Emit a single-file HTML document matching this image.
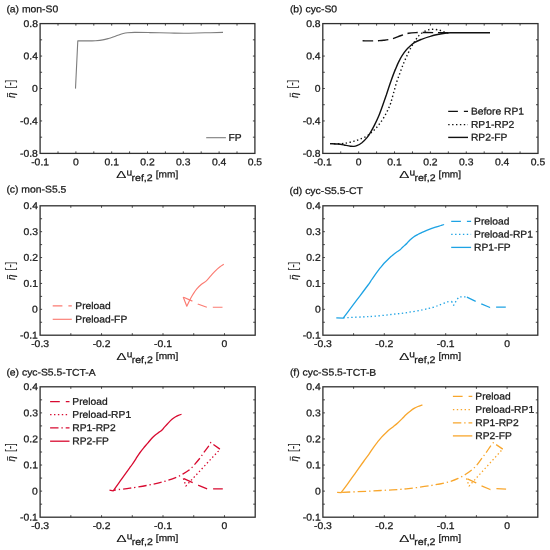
<!DOCTYPE html>
<html><head><meta charset="utf-8"><title>figure</title>
<style>
html,body{margin:0;padding:0;background:#fff;}
body{width:550px;height:550px;overflow:hidden;}
svg{display:block;}
svg text{font-family:"Liberation Sans","DejaVu Sans",sans-serif;fill:#1a1a1a;stroke:#1a1a1a;stroke-width:0.26px;}
</style></head><body>
<svg width="550" height="550" viewBox="0 0 550 550">
<rect width="550" height="550" fill="#fff"/>
<rect x="40.1" y="23.6" width="214.8" height="129.8" fill="#fff" stroke="#303030" stroke-width="1.3"/>
<path d="M58.00,153.4v-2.0M58.00,23.6v2.0M75.90,153.4v-2.0M75.90,23.6v2.0M93.80,153.4v-2.0M93.80,23.6v2.0M111.70,153.4v-2.0M111.70,23.6v2.0M129.60,153.4v-2.0M129.60,23.6v2.0M147.50,153.4v-2.0M147.50,23.6v2.0M165.40,153.4v-2.0M165.40,23.6v2.0M183.30,153.4v-2.0M183.30,23.6v2.0M201.20,153.4v-2.0M201.20,23.6v2.0M219.10,153.4v-2.0M219.10,23.6v2.0M237.00,153.4v-2.0M237.00,23.6v2.0M40.1,137.18h2.0M254.9,137.18h-2.0M40.1,120.95h2.0M254.9,120.95h-2.0M40.1,104.72h2.0M254.9,104.72h-2.0M40.1,88.50h2.0M254.9,88.50h-2.0M40.1,72.28h2.0M254.9,72.28h-2.0M40.1,56.05h2.0M254.9,56.05h-2.0M40.1,39.82h2.0M254.9,39.82h-2.0" stroke="#303030" stroke-width="0.9" fill="none"/>
<text transform="translate(40.10,165.30) scale(1.07,1) rotate(0.03)" font-size="9.7" text-anchor="middle" >-0.1</text>
<text transform="translate(75.90,165.30) scale(1.07,1) rotate(0.03)" font-size="9.7" text-anchor="middle" >0</text>
<text transform="translate(111.70,165.30) scale(1.07,1) rotate(0.03)" font-size="9.7" text-anchor="middle" >0.1</text>
<text transform="translate(147.50,165.30) scale(1.07,1) rotate(0.03)" font-size="9.7" text-anchor="middle" >0.2</text>
<text transform="translate(183.30,165.30) scale(1.07,1) rotate(0.03)" font-size="9.7" text-anchor="middle" >0.3</text>
<text transform="translate(219.10,165.30) scale(1.07,1) rotate(0.03)" font-size="9.7" text-anchor="middle" >0.4</text>
<text transform="translate(254.90,165.30) scale(1.07,1) rotate(0.03)" font-size="9.7" text-anchor="middle" >0.5</text>
<text transform="translate(37.90,156.70) scale(1.07,1) rotate(0.03)" font-size="9.7" text-anchor="end" >-0.8</text>
<text transform="translate(37.90,124.25) scale(1.07,1) rotate(0.03)" font-size="9.7" text-anchor="end" >-0.4</text>
<text transform="translate(37.90,91.80) scale(1.07,1) rotate(0.03)" font-size="9.7" text-anchor="end" >0</text>
<text transform="translate(37.90,59.35) scale(1.07,1) rotate(0.03)" font-size="9.7" text-anchor="end" >0.4</text>
<text transform="translate(37.90,26.90) scale(1.07,1) rotate(0.03)" font-size="9.7" text-anchor="end" >0.8</text>
<text transform="translate(6.40,12.20) scale(1.07,1) rotate(0.03)" font-size="9.7" text-anchor="start" >(a) mon-S0</text>
<text transform="translate(116.10,177.90) scale(1.52,1) rotate(0.03)" font-size="10.3" style="stroke:none">Δ</text><text transform="translate(126.50,175.50) scale(1.08,1) rotate(0.03)" font-size="9.4">u</text><text transform="translate(131.50,181.10) scale(1.10,1) rotate(0.03)" font-size="9.6">ref,2</text><text transform="translate(155.70,177.30) scale(1.09,1) rotate(0.03)" font-size="9.3">[mm]</text>
<g transform="translate(11.10,88.50)"><g transform="scale(1.15,1) rotate(-90)"><text x="-9.5" y="3.4" font-size="10" font-style="italic" style="stroke-width:0.25px" font-family="'Liberation Serif','DejaVu Serif',serif">η</text><path d="M-8.6,-3.13h4.2" stroke="#1a1a1a" stroke-width="0.75"/></g><g transform="scale(1.34,1) rotate(-90)"><text x="0" y="1.95" font-size="10" style="stroke-width:0.05px">[-]</text></g></g>
<path d="M75.5,88.6 L77.8,40.8 L90.0,40.9 C90.9,40.9 93.4,41.0 95.5,40.8 C97.6,40.6 100.6,40.3 102.8,39.9 C105.0,39.5 106.4,39.1 108.6,38.5 C110.8,37.9 113.5,36.8 115.9,36.0 C118.3,35.2 121.3,34.0 123.2,33.5 C125.1,33.0 125.6,32.9 127.5,32.7 C129.4,32.5 131.1,32.4 134.8,32.4 C138.6,32.4 144.1,32.5 150.0,32.6 C155.9,32.7 164.3,32.9 170.0,33.0 C175.7,33.1 178.2,33.2 184.0,33.2 C189.8,33.2 198.5,32.9 205.0,32.8 C211.5,32.7 220.0,32.5 223.0,32.4" fill="none" stroke="#7d7d7d" stroke-width="1.1" stroke-linejoin="round" stroke-linecap="butt"/>
<path d="M206.2,137.7 L225.9,137.7" fill="none" stroke="#7d7d7d" stroke-width="1.1" stroke-linejoin="round" stroke-linecap="butt"/>
<text transform="translate(228.40,140.80) scale(1.06,1) rotate(0.03)" font-size="9.7" text-anchor="start" >FP</text>
<rect x="322.8" y="23.6" width="215.2" height="129.8" fill="#fff" stroke="#303030" stroke-width="1.3"/>
<path d="M340.73,153.4v-2.0M340.73,23.6v2.0M358.67,153.4v-2.0M358.67,23.6v2.0M376.60,153.4v-2.0M376.60,23.6v2.0M394.53,153.4v-2.0M394.53,23.6v2.0M412.47,153.4v-2.0M412.47,23.6v2.0M430.40,153.4v-2.0M430.40,23.6v2.0M448.33,153.4v-2.0M448.33,23.6v2.0M466.27,153.4v-2.0M466.27,23.6v2.0M484.20,153.4v-2.0M484.20,23.6v2.0M502.13,153.4v-2.0M502.13,23.6v2.0M520.07,153.4v-2.0M520.07,23.6v2.0M322.8,137.18h2.0M538.0,137.18h-2.0M322.8,120.95h2.0M538.0,120.95h-2.0M322.8,104.72h2.0M538.0,104.72h-2.0M322.8,88.50h2.0M538.0,88.50h-2.0M322.8,72.28h2.0M538.0,72.28h-2.0M322.8,56.05h2.0M538.0,56.05h-2.0M322.8,39.82h2.0M538.0,39.82h-2.0" stroke="#303030" stroke-width="0.9" fill="none"/>
<text transform="translate(322.80,165.30) scale(1.07,1) rotate(0.03)" font-size="9.7" text-anchor="middle" >-0.1</text>
<text transform="translate(358.67,165.30) scale(1.07,1) rotate(0.03)" font-size="9.7" text-anchor="middle" >0</text>
<text transform="translate(394.53,165.30) scale(1.07,1) rotate(0.03)" font-size="9.7" text-anchor="middle" >0.1</text>
<text transform="translate(430.40,165.30) scale(1.07,1) rotate(0.03)" font-size="9.7" text-anchor="middle" >0.2</text>
<text transform="translate(466.27,165.30) scale(1.07,1) rotate(0.03)" font-size="9.7" text-anchor="middle" >0.3</text>
<text transform="translate(502.13,165.30) scale(1.07,1) rotate(0.03)" font-size="9.7" text-anchor="middle" >0.4</text>
<text transform="translate(538.00,165.30) scale(1.07,1) rotate(0.03)" font-size="9.7" text-anchor="middle" >0.5</text>
<text transform="translate(320.60,156.70) scale(1.07,1) rotate(0.03)" font-size="9.7" text-anchor="end" >-0.8</text>
<text transform="translate(320.60,124.25) scale(1.07,1) rotate(0.03)" font-size="9.7" text-anchor="end" >-0.4</text>
<text transform="translate(320.60,91.80) scale(1.07,1) rotate(0.03)" font-size="9.7" text-anchor="end" >0</text>
<text transform="translate(320.60,59.35) scale(1.07,1) rotate(0.03)" font-size="9.7" text-anchor="end" >0.4</text>
<text transform="translate(320.60,26.90) scale(1.07,1) rotate(0.03)" font-size="9.7" text-anchor="end" >0.8</text>
<text transform="translate(289.90,12.20) scale(1.07,1) rotate(0.03)" font-size="9.7" text-anchor="start" >(b) cyc-S0</text>
<text transform="translate(399.00,177.90) scale(1.52,1) rotate(0.03)" font-size="10.3" style="stroke:none">Δ</text><text transform="translate(409.40,175.50) scale(1.08,1) rotate(0.03)" font-size="9.4">u</text><text transform="translate(414.40,181.10) scale(1.10,1) rotate(0.03)" font-size="9.6">ref,2</text><text transform="translate(438.60,177.30) scale(1.09,1) rotate(0.03)" font-size="9.3">[mm]</text>
<g transform="translate(293.80,88.50)"><g transform="scale(1.15,1) rotate(-90)"><text x="-9.5" y="3.4" font-size="10" font-style="italic" style="stroke-width:0.25px" font-family="'Liberation Serif','DejaVu Serif',serif">η</text><path d="M-8.6,-3.13h4.2" stroke="#1a1a1a" stroke-width="0.75"/></g><g transform="scale(1.34,1) rotate(-90)"><text x="0" y="1.95" font-size="10" style="stroke-width:0.05px">[-]</text></g></g>
<path d="M362.6,40.8 C363.8,40.8 367.4,40.9 370.0,40.9 C372.6,40.9 375.9,40.8 378.2,40.7 C380.5,40.6 381.3,40.6 383.7,40.3 C386.1,40.0 389.6,39.6 392.5,38.8 C395.4,38.0 398.5,36.4 401.2,35.5 C403.9,34.6 406.1,33.8 408.5,33.3 C410.9,32.8 411.6,32.7 415.7,32.6 C419.8,32.5 427.8,32.6 433.2,32.6 C438.6,32.6 445.5,32.7 448.0,32.7" fill="none" stroke="#111" stroke-width="1.4" stroke-linejoin="round" stroke-linecap="butt" stroke-dasharray="10.5 4.8"/>
<path d="M330.1,143.6 C332.0,143.6 338.5,143.8 341.5,143.6 C344.5,143.4 345.8,143.1 347.9,142.7 C350.0,142.3 352.2,141.7 354.3,141.1 C356.4,140.5 358.5,139.8 360.6,138.9 C362.7,138.1 365.1,137.2 367.0,136.0 C368.9,134.8 370.6,133.2 372.1,131.9 C373.6,130.6 374.6,129.7 375.9,128.3 C377.2,126.9 378.4,125.3 379.7,123.6 C381.0,121.9 382.3,120.0 383.6,117.9 C384.9,115.8 386.2,113.3 387.4,110.9 C388.6,108.5 389.6,106.3 390.6,103.4 C391.6,100.5 392.4,97.2 393.4,93.6 C394.4,90.0 395.6,85.4 396.8,81.7 C398.0,78.0 399.3,74.8 400.5,71.5 C401.7,68.2 402.9,65.0 404.1,62.1 C405.3,59.2 406.5,56.7 407.7,54.1 C408.9,51.5 410.2,49.0 411.4,46.8 C412.6,44.6 413.8,42.8 415.0,41.0 C416.2,39.2 417.3,37.4 418.6,35.9 C419.9,34.4 421.3,33.3 423.0,32.3 C424.7,31.3 426.9,30.2 428.8,29.7 C430.7,29.2 432.7,29.3 434.6,29.4 C436.6,29.5 438.8,30.0 440.5,30.5 C442.2,31.0 443.6,31.9 445.0,32.3 C446.4,32.7 448.3,32.7 449.0,32.8" fill="none" stroke="#111" stroke-width="1.4" stroke-linejoin="round" stroke-linecap="butt" stroke-dasharray="1.4 2.5"/>
<path d="M330.1,143.6 C331.4,143.7 335.4,143.8 337.7,144.0 C340.0,144.2 342.0,144.6 344.1,145.0 C346.2,145.4 348.9,146.0 350.5,146.2 C352.1,146.4 352.6,146.5 353.6,146.4 C354.7,146.3 355.4,146.3 356.8,145.7 C358.2,145.1 360.2,144.0 361.9,142.7 C363.6,141.3 365.5,139.4 367.0,137.6 C368.5,135.8 369.5,134.0 370.8,131.9 C372.1,129.8 373.3,127.5 374.6,124.9 C375.9,122.4 377.2,119.7 378.5,116.6 C379.8,113.5 381.0,110.1 382.3,106.5 C383.6,102.9 384.9,99.0 386.4,94.8 C387.8,90.5 389.5,85.2 391.0,81.0 C392.5,76.8 393.9,72.9 395.4,69.4 C396.8,65.9 398.2,62.7 399.7,59.9 C401.1,57.1 402.6,54.7 404.1,52.6 C405.6,50.5 406.8,49.1 408.5,47.5 C410.2,45.9 412.1,44.1 414.3,42.7 C416.5,41.3 418.8,40.4 421.5,39.3 C424.2,38.2 427.4,37.1 430.3,36.3 C433.2,35.4 436.6,34.7 439.0,34.2 C441.4,33.7 443.2,33.5 445.0,33.3 C446.8,33.1 445.8,32.9 450.0,32.8 C454.2,32.7 463.3,32.8 470.0,32.8 C476.7,32.8 486.7,32.8 490.0,32.8" fill="none" stroke="#111" stroke-width="1.4" stroke-linejoin="round" stroke-linecap="butt"/>
<path d="M448.2,111.4 L468.0,111.4" fill="none" stroke="#111" stroke-width="1.4" stroke-linejoin="round" stroke-linecap="butt" stroke-dasharray="9.7 6.0"/>
<text transform="translate(470.90,114.50) scale(1.06,1) rotate(0.03)" font-size="9.7" text-anchor="start" >Before RP1</text>
<path d="M448.2,124.6 L468.0,124.6" fill="none" stroke="#111" stroke-width="1.4" stroke-linejoin="round" stroke-linecap="butt" stroke-dasharray="1.4 2.5"/>
<text transform="translate(470.90,127.70) scale(1.06,1) rotate(0.03)" font-size="9.7" text-anchor="start" >RP1-RP2</text>
<path d="M448.2,137.4 L468.0,137.4" fill="none" stroke="#111" stroke-width="1.4" stroke-linejoin="round" stroke-linecap="butt"/>
<text transform="translate(470.90,140.50) scale(1.06,1) rotate(0.03)" font-size="9.7" text-anchor="start" >RP2-FP</text>
<rect x="40.1" y="205.8" width="215.1" height="129.39999999999998" fill="#fff" stroke="#303030" stroke-width="1.3"/>
<path d="M70.83,335.2v-2.0M70.83,205.8v2.0M101.56,335.2v-2.0M101.56,205.8v2.0M132.29,335.2v-2.0M132.29,205.8v2.0M163.01,335.2v-2.0M163.01,205.8v2.0M193.74,335.2v-2.0M193.74,205.8v2.0M224.47,335.2v-2.0M224.47,205.8v2.0M40.1,322.26h2.0M255.2,322.26h-2.0M40.1,309.32h2.0M255.2,309.32h-2.0M40.1,296.38h2.0M255.2,296.38h-2.0M40.1,283.44h2.0M255.2,283.44h-2.0M40.1,270.50h2.0M255.2,270.50h-2.0M40.1,257.56h2.0M255.2,257.56h-2.0M40.1,244.62h2.0M255.2,244.62h-2.0M40.1,231.68h2.0M255.2,231.68h-2.0M40.1,218.74h2.0M255.2,218.74h-2.0" stroke="#303030" stroke-width="0.9" fill="none"/>
<text transform="translate(40.10,347.10) scale(1.07,1) rotate(0.03)" font-size="9.7" text-anchor="middle" >-0.3</text>
<text transform="translate(101.56,347.10) scale(1.07,1) rotate(0.03)" font-size="9.7" text-anchor="middle" >-0.2</text>
<text transform="translate(163.01,347.10) scale(1.07,1) rotate(0.03)" font-size="9.7" text-anchor="middle" >-0.1</text>
<text transform="translate(224.47,347.10) scale(1.07,1) rotate(0.03)" font-size="9.7" text-anchor="middle" >0</text>
<text transform="translate(37.90,338.50) scale(1.07,1) rotate(0.03)" font-size="9.7" text-anchor="end" >-0.1</text>
<text transform="translate(37.90,312.62) scale(1.07,1) rotate(0.03)" font-size="9.7" text-anchor="end" >0</text>
<text transform="translate(37.90,286.74) scale(1.07,1) rotate(0.03)" font-size="9.7" text-anchor="end" >0.1</text>
<text transform="translate(37.90,260.86) scale(1.07,1) rotate(0.03)" font-size="9.7" text-anchor="end" >0.2</text>
<text transform="translate(37.90,234.98) scale(1.07,1) rotate(0.03)" font-size="9.7" text-anchor="end" >0.3</text>
<text transform="translate(37.90,209.10) scale(1.07,1) rotate(0.03)" font-size="9.7" text-anchor="end" >0.4</text>
<text transform="translate(6.40,192.60) scale(1.07,1) rotate(0.03)" font-size="9.7" text-anchor="start" >(c) mon-S5.5</text>
<text transform="translate(116.25,359.70) scale(1.52,1) rotate(0.03)" font-size="10.3" style="stroke:none">Δ</text><text transform="translate(126.65,357.30) scale(1.08,1) rotate(0.03)" font-size="9.4">u</text><text transform="translate(131.65,362.90) scale(1.10,1) rotate(0.03)" font-size="9.6">ref,2</text><text transform="translate(155.85,359.10) scale(1.09,1) rotate(0.03)" font-size="9.3">[mm]</text>
<g transform="translate(11.10,270.50)"><g transform="scale(1.15,1) rotate(-90)"><text x="-9.5" y="3.4" font-size="10" font-style="italic" style="stroke-width:0.25px" font-family="'Liberation Serif','DejaVu Serif',serif">η</text><path d="M-8.6,-3.13h4.2" stroke="#1a1a1a" stroke-width="0.75"/></g><g transform="scale(1.34,1) rotate(-90)"><text x="0" y="1.95" font-size="10" style="stroke-width:0.05px">[-]</text></g></g>
<path d="M222.5,307.2 L213.2,307.2 L207.2,307.4 L198.5,304.3 L193.0,301.4 L183.2,297.0" fill="none" stroke="#fb7b72" stroke-width="1.15" stroke-linejoin="round" stroke-linecap="butt" stroke-dasharray="9.7 6.0"/>
<path d="M183.2,297.0 L186.8,306.2 L189.7,300.3 C190.2,299.3 191.8,296.2 193.0,294.3 C194.2,292.4 195.4,290.4 196.8,288.8 C198.2,287.2 199.6,285.9 201.2,284.5 C202.8,283.1 205.0,282.1 206.6,280.6 C208.2,279.1 209.5,277.3 211.0,275.7 C212.5,274.1 214.0,272.2 215.4,270.8 C216.8,269.4 218.3,268.1 219.7,267.0 C221.1,265.9 223.1,264.8 223.8,264.3" fill="none" stroke="#fb7b72" stroke-width="1.15" stroke-linejoin="round" stroke-linecap="butt"/>
<path d="M52.7,305.8 L71.8,305.8" fill="none" stroke="#fb7b72" stroke-width="1.15" stroke-linejoin="round" stroke-linecap="butt" stroke-dasharray="9.7 6.0"/>
<text transform="translate(75.30,308.90) scale(1.06,1) rotate(0.03)" font-size="9.7" text-anchor="start" >Preload</text>
<path d="M52.7,319.3 L71.8,319.3" fill="none" stroke="#fb7b72" stroke-width="1.15" stroke-linejoin="round" stroke-linecap="butt"/>
<text transform="translate(75.30,322.40) scale(1.06,1) rotate(0.03)" font-size="9.7" text-anchor="start" >Preload-FP</text>
<rect x="322.9" y="205.8" width="214.89999999999998" height="129.39999999999998" fill="#fff" stroke="#303030" stroke-width="1.3"/>
<path d="M353.60,335.2v-2.0M353.60,205.8v2.0M384.30,335.2v-2.0M384.30,205.8v2.0M415.00,335.2v-2.0M415.00,205.8v2.0M445.70,335.2v-2.0M445.70,205.8v2.0M476.40,335.2v-2.0M476.40,205.8v2.0M507.10,335.2v-2.0M507.10,205.8v2.0M322.9,322.26h2.0M537.8,322.26h-2.0M322.9,309.32h2.0M537.8,309.32h-2.0M322.9,296.38h2.0M537.8,296.38h-2.0M322.9,283.44h2.0M537.8,283.44h-2.0M322.9,270.50h2.0M537.8,270.50h-2.0M322.9,257.56h2.0M537.8,257.56h-2.0M322.9,244.62h2.0M537.8,244.62h-2.0M322.9,231.68h2.0M537.8,231.68h-2.0M322.9,218.74h2.0M537.8,218.74h-2.0" stroke="#303030" stroke-width="0.9" fill="none"/>
<text transform="translate(322.90,347.10) scale(1.07,1) rotate(0.03)" font-size="9.7" text-anchor="middle" >-0.3</text>
<text transform="translate(384.30,347.10) scale(1.07,1) rotate(0.03)" font-size="9.7" text-anchor="middle" >-0.2</text>
<text transform="translate(445.70,347.10) scale(1.07,1) rotate(0.03)" font-size="9.7" text-anchor="middle" >-0.1</text>
<text transform="translate(507.10,347.10) scale(1.07,1) rotate(0.03)" font-size="9.7" text-anchor="middle" >0</text>
<text transform="translate(320.70,338.50) scale(1.07,1) rotate(0.03)" font-size="9.7" text-anchor="end" >-0.1</text>
<text transform="translate(320.70,312.62) scale(1.07,1) rotate(0.03)" font-size="9.7" text-anchor="end" >0</text>
<text transform="translate(320.70,286.74) scale(1.07,1) rotate(0.03)" font-size="9.7" text-anchor="end" >0.1</text>
<text transform="translate(320.70,260.86) scale(1.07,1) rotate(0.03)" font-size="9.7" text-anchor="end" >0.2</text>
<text transform="translate(320.70,234.98) scale(1.07,1) rotate(0.03)" font-size="9.7" text-anchor="end" >0.3</text>
<text transform="translate(320.70,209.10) scale(1.07,1) rotate(0.03)" font-size="9.7" text-anchor="end" >0.4</text>
<text transform="translate(289.60,194.00) scale(1.07,1) rotate(0.03)" font-size="9.7" text-anchor="start" >(d) cyc-S5.5-CT</text>
<text transform="translate(398.95,359.70) scale(1.52,1) rotate(0.03)" font-size="10.3" style="stroke:none">Δ</text><text transform="translate(409.35,357.30) scale(1.08,1) rotate(0.03)" font-size="9.4">u</text><text transform="translate(414.35,362.90) scale(1.10,1) rotate(0.03)" font-size="9.6">ref,2</text><text transform="translate(438.55,359.10) scale(1.09,1) rotate(0.03)" font-size="9.3">[mm]</text>
<g transform="translate(293.90,270.50)"><g transform="scale(1.15,1) rotate(-90)"><text x="-9.5" y="3.4" font-size="10" font-style="italic" style="stroke-width:0.25px" font-family="'Liberation Serif','DejaVu Serif',serif">η</text><path d="M-8.6,-3.13h4.2" stroke="#1a1a1a" stroke-width="0.75"/></g><g transform="scale(1.34,1) rotate(-90)"><text x="0" y="1.95" font-size="10" style="stroke-width:0.05px">[-]</text></g></g>
<path d="M505.8,307.2 L496.0,307.1 L490.0,307.5 L481.3,303.9 L475.7,301.3 L466.3,296.9" fill="none" stroke="#1ea3e4" stroke-width="1.3" stroke-linejoin="round" stroke-linecap="butt" stroke-dasharray="9.7 6.0"/>
<path d="M343.5,317.8 C346.7,317.6 357.4,317.2 362.7,316.9 C367.9,316.6 370.3,316.6 375.0,316.2 C379.7,315.8 385.7,315.1 391.0,314.5 C396.3,313.9 401.7,313.4 407.0,312.6 C412.3,311.8 418.6,310.6 423.0,309.7 C427.4,308.8 430.3,308.1 433.2,307.3 C436.1,306.5 438.1,305.5 440.5,304.6 C442.9,303.7 445.8,302.3 447.7,301.8 C449.6,301.3 451.0,301.5 451.6,301.4" fill="none" stroke="#1ea3e4" stroke-width="1.3" stroke-linejoin="round" stroke-linecap="butt" stroke-dasharray="1.4 2.5"/>
<path d="M451.6,301.4 L453.6,305.3 L457.0,299.5 L459.0,296.9 L465.9,296.8" fill="none" stroke="#1ea3e4" stroke-width="1.3" stroke-linejoin="round" stroke-linecap="butt" stroke-dasharray="1.4 2.5"/>
<path d="M336.3,317.8 L343.2,318.1 C344.7,316.1 349.2,310.1 352.0,306.4 C354.8,302.7 357.3,299.4 360.0,295.8 C362.7,292.2 366.1,287.7 368.1,285.0 C370.1,282.3 370.5,281.4 371.8,279.5 C373.1,277.6 374.5,275.5 375.9,273.6 C377.3,271.7 378.6,269.9 380.0,268.2 C381.4,266.5 382.7,264.8 384.1,263.3 C385.5,261.8 386.8,260.5 388.2,259.2 C389.6,257.9 390.9,256.6 392.3,255.5 C393.7,254.3 395.1,253.2 396.4,252.3 C397.6,251.4 398.7,250.9 399.8,250.0 C400.9,249.1 401.7,248.1 402.9,247.0 C404.1,245.9 406.0,244.2 407.0,243.2 C408.0,242.2 408.0,241.9 409.1,240.9 C410.2,239.9 412.1,238.1 413.6,237.0 C415.1,235.9 416.7,235.1 418.2,234.3 C419.7,233.5 421.2,232.9 422.7,232.2 C424.2,231.5 425.8,230.8 427.3,230.2 C428.8,229.6 430.3,229.0 431.8,228.4 C433.3,227.8 434.9,227.3 436.4,226.8 C437.9,226.3 439.6,225.9 440.9,225.5 C442.2,225.1 443.6,224.7 444.1,224.5" fill="none" stroke="#1ea3e4" stroke-width="1.3" stroke-linejoin="round" stroke-linecap="butt"/>
<path d="M451.2,221.3 L471.1,221.3" fill="none" stroke="#1ea3e4" stroke-width="1.3" stroke-linejoin="round" stroke-linecap="butt" stroke-dasharray="9.7 6.0"/>
<text transform="translate(474.10,224.40) scale(1.06,1) rotate(0.03)" font-size="9.7" text-anchor="start" >Preload</text>
<path d="M451.2,234.3 L471.1,234.3" fill="none" stroke="#1ea3e4" stroke-width="1.3" stroke-linejoin="round" stroke-linecap="butt" stroke-dasharray="1.4 2.5"/>
<text transform="translate(474.10,237.40) scale(1.06,1) rotate(0.03)" font-size="9.7" text-anchor="start" >Preload-RP1</text>
<path d="M451.2,247.4 L471.1,247.4" fill="none" stroke="#1ea3e4" stroke-width="1.3" stroke-linejoin="round" stroke-linecap="butt"/>
<text transform="translate(474.10,250.55) scale(1.06,1) rotate(0.03)" font-size="9.7" text-anchor="start" >RP1-FP</text>
<rect x="40.1" y="386.8" width="215.1" height="130.40000000000003" fill="#fff" stroke="#303030" stroke-width="1.3"/>
<path d="M70.83,517.2v-2.0M70.83,386.8v2.0M101.56,517.2v-2.0M101.56,386.8v2.0M132.29,517.2v-2.0M132.29,386.8v2.0M163.01,517.2v-2.0M163.01,386.8v2.0M193.74,517.2v-2.0M193.74,386.8v2.0M224.47,517.2v-2.0M224.47,386.8v2.0M40.1,504.16h2.0M255.2,504.16h-2.0M40.1,491.12h2.0M255.2,491.12h-2.0M40.1,478.08h2.0M255.2,478.08h-2.0M40.1,465.04h2.0M255.2,465.04h-2.0M40.1,452.00h2.0M255.2,452.00h-2.0M40.1,438.96h2.0M255.2,438.96h-2.0M40.1,425.92h2.0M255.2,425.92h-2.0M40.1,412.88h2.0M255.2,412.88h-2.0M40.1,399.84h2.0M255.2,399.84h-2.0" stroke="#303030" stroke-width="0.9" fill="none"/>
<text transform="translate(40.10,529.10) scale(1.07,1) rotate(0.03)" font-size="9.7" text-anchor="middle" >-0.3</text>
<text transform="translate(101.56,529.10) scale(1.07,1) rotate(0.03)" font-size="9.7" text-anchor="middle" >-0.2</text>
<text transform="translate(163.01,529.10) scale(1.07,1) rotate(0.03)" font-size="9.7" text-anchor="middle" >-0.1</text>
<text transform="translate(224.47,529.10) scale(1.07,1) rotate(0.03)" font-size="9.7" text-anchor="middle" >0</text>
<text transform="translate(37.90,520.50) scale(1.07,1) rotate(0.03)" font-size="9.7" text-anchor="end" >-0.1</text>
<text transform="translate(37.90,494.42) scale(1.07,1) rotate(0.03)" font-size="9.7" text-anchor="end" >0</text>
<text transform="translate(37.90,468.34) scale(1.07,1) rotate(0.03)" font-size="9.7" text-anchor="end" >0.1</text>
<text transform="translate(37.90,442.26) scale(1.07,1) rotate(0.03)" font-size="9.7" text-anchor="end" >0.2</text>
<text transform="translate(37.90,416.18) scale(1.07,1) rotate(0.03)" font-size="9.7" text-anchor="end" >0.3</text>
<text transform="translate(37.90,390.10) scale(1.07,1) rotate(0.03)" font-size="9.7" text-anchor="end" >0.4</text>
<text transform="translate(6.40,375.60) scale(1.07,1) rotate(0.03)" font-size="9.7" text-anchor="start" >(e) cyc-S5.5-TCT-A</text>
<text transform="translate(116.25,541.70) scale(1.52,1) rotate(0.03)" font-size="10.3" style="stroke:none">Δ</text><text transform="translate(126.65,539.30) scale(1.08,1) rotate(0.03)" font-size="9.4">u</text><text transform="translate(131.65,544.90) scale(1.10,1) rotate(0.03)" font-size="9.6">ref,2</text><text transform="translate(155.85,541.10) scale(1.09,1) rotate(0.03)" font-size="9.3">[mm]</text>
<g transform="translate(11.10,452.00)"><g transform="scale(1.15,1) rotate(-90)"><text x="-9.5" y="3.4" font-size="10" font-style="italic" style="stroke-width:0.25px" font-family="'Liberation Serif','DejaVu Serif',serif">η</text><path d="M-8.6,-3.13h4.2" stroke="#1a1a1a" stroke-width="0.75"/></g><g transform="scale(1.34,1) rotate(-90)"><text x="0" y="1.95" font-size="10" style="stroke-width:0.05px">[-]</text></g></g>
<path d="M222.8,488.8 L213.3,488.8 L207.5,489.0 L198.6,485.4 L192.9,482.8 L183.4,478.4" fill="none" stroke="#d80a30" stroke-width="1.3" stroke-linejoin="round" stroke-linecap="butt" stroke-dasharray="9.7 6.0"/>
<path d="M183.4,478.4 L185.9,486.0 L218.4,451.0 L219.9,449.1" fill="none" stroke="#d80a30" stroke-width="1.3" stroke-linejoin="round" stroke-linecap="butt" stroke-dasharray="1.4 2.5"/>
<path d="M219.9,449.1 L210.7,442.5 C210.4,443.1 210.0,444.2 208.8,445.9 C207.6,447.6 205.2,450.6 203.7,452.7 C202.2,454.8 201.5,456.1 199.9,458.2 C198.3,460.2 196.0,463.0 194.2,465.0 C192.4,467.0 191.1,468.5 189.1,470.1 C187.1,471.7 184.2,473.3 182.1,474.5 C180.0,475.7 179.8,476.0 176.4,477.3 C173.0,478.6 166.8,480.8 161.8,482.2 C156.8,483.6 151.7,484.5 146.4,485.5 C141.1,486.5 134.7,487.5 130.0,488.2 C125.3,488.9 120.9,489.2 118.2,489.6 C115.5,490.0 114.4,490.3 113.6,490.4" fill="none" stroke="#d80a30" stroke-width="1.3" stroke-linejoin="round" stroke-linecap="butt" stroke-dasharray="8.3 2.85 1.4 2.85" stroke-dashoffset="0.3"/>
<path d="M109.5,490.1 L113.2,490.9 C114.6,489.0 118.7,483.2 121.4,479.4 C124.1,475.6 127.8,470.5 129.5,468.1 C131.2,465.7 130.7,466.6 131.8,465.0 C132.9,463.4 134.6,460.8 135.9,458.8 C137.2,456.8 138.4,454.8 139.7,453.0 C141.0,451.2 142.1,449.8 143.5,448.1 C144.9,446.4 146.7,444.4 148.0,442.8 C149.3,441.2 150.4,439.8 151.6,438.5 C152.8,437.2 154.1,436.0 155.3,435.0 C156.5,434.0 157.8,433.2 158.9,432.4 C160.0,431.6 160.8,431.1 161.8,430.2 C162.8,429.3 163.6,428.1 164.7,426.9 C165.8,425.7 167.2,424.2 168.4,422.9 C169.6,421.6 170.8,420.3 172.0,419.3 C173.2,418.3 174.5,417.4 175.6,416.7 C176.7,416.0 177.5,415.7 178.5,415.3 C179.5,414.9 181.0,414.5 181.5,414.4" fill="none" stroke="#d80a30" stroke-width="1.3" stroke-linejoin="round" stroke-linecap="butt"/>
<path d="M50.1,401.7 L69.5,401.7" fill="none" stroke="#d80a30" stroke-width="1.3" stroke-linejoin="round" stroke-linecap="butt" stroke-dasharray="9.7 6.0"/>
<text transform="translate(72.30,404.80) scale(1.06,1) rotate(0.03)" font-size="9.7" text-anchor="start" >Preload</text>
<path d="M50.1,414.7 L69.5,414.7" fill="none" stroke="#d80a30" stroke-width="1.3" stroke-linejoin="round" stroke-linecap="butt" stroke-dasharray="1.4 2.5"/>
<text transform="translate(72.30,417.80) scale(1.06,1) rotate(0.03)" font-size="9.7" text-anchor="start" >Preload-RP1</text>
<path d="M50.1,427.9 L69.5,427.9" fill="none" stroke="#d80a30" stroke-width="1.3" stroke-linejoin="round" stroke-linecap="butt" stroke-dasharray="8.4 2.9 1.4 2.9"/>
<text transform="translate(72.30,431.05) scale(1.06,1) rotate(0.03)" font-size="9.7" text-anchor="start" >RP1-RP2</text>
<path d="M50.1,441.2 L69.5,441.2" fill="none" stroke="#d80a30" stroke-width="1.3" stroke-linejoin="round" stroke-linecap="butt"/>
<text transform="translate(72.30,444.30) scale(1.06,1) rotate(0.03)" font-size="9.7" text-anchor="start" >RP2-FP</text>
<rect x="322.9" y="386.8" width="214.89999999999998" height="130.40000000000003" fill="#fff" stroke="#303030" stroke-width="1.3"/>
<path d="M353.60,517.2v-2.0M353.60,386.8v2.0M384.30,517.2v-2.0M384.30,386.8v2.0M415.00,517.2v-2.0M415.00,386.8v2.0M445.70,517.2v-2.0M445.70,386.8v2.0M476.40,517.2v-2.0M476.40,386.8v2.0M507.10,517.2v-2.0M507.10,386.8v2.0M322.9,504.16h2.0M537.8,504.16h-2.0M322.9,491.12h2.0M537.8,491.12h-2.0M322.9,478.08h2.0M537.8,478.08h-2.0M322.9,465.04h2.0M537.8,465.04h-2.0M322.9,452.00h2.0M537.8,452.00h-2.0M322.9,438.96h2.0M537.8,438.96h-2.0M322.9,425.92h2.0M537.8,425.92h-2.0M322.9,412.88h2.0M537.8,412.88h-2.0M322.9,399.84h2.0M537.8,399.84h-2.0" stroke="#303030" stroke-width="0.9" fill="none"/>
<text transform="translate(322.90,529.10) scale(1.07,1) rotate(0.03)" font-size="9.7" text-anchor="middle" >-0.3</text>
<text transform="translate(384.30,529.10) scale(1.07,1) rotate(0.03)" font-size="9.7" text-anchor="middle" >-0.2</text>
<text transform="translate(445.70,529.10) scale(1.07,1) rotate(0.03)" font-size="9.7" text-anchor="middle" >-0.1</text>
<text transform="translate(507.10,529.10) scale(1.07,1) rotate(0.03)" font-size="9.7" text-anchor="middle" >0</text>
<text transform="translate(320.70,520.50) scale(1.07,1) rotate(0.03)" font-size="9.7" text-anchor="end" >-0.1</text>
<text transform="translate(320.70,494.42) scale(1.07,1) rotate(0.03)" font-size="9.7" text-anchor="end" >0</text>
<text transform="translate(320.70,468.34) scale(1.07,1) rotate(0.03)" font-size="9.7" text-anchor="end" >0.1</text>
<text transform="translate(320.70,442.26) scale(1.07,1) rotate(0.03)" font-size="9.7" text-anchor="end" >0.2</text>
<text transform="translate(320.70,416.18) scale(1.07,1) rotate(0.03)" font-size="9.7" text-anchor="end" >0.3</text>
<text transform="translate(320.70,390.10) scale(1.07,1) rotate(0.03)" font-size="9.7" text-anchor="end" >0.4</text>
<text transform="translate(289.90,375.60) scale(1.07,1) rotate(0.03)" font-size="9.7" text-anchor="start" >(f) cyc-S5.5-TCT-B</text>
<text transform="translate(398.95,541.70) scale(1.52,1) rotate(0.03)" font-size="10.3" style="stroke:none">Δ</text><text transform="translate(409.35,539.30) scale(1.08,1) rotate(0.03)" font-size="9.4">u</text><text transform="translate(414.35,544.90) scale(1.10,1) rotate(0.03)" font-size="9.6">ref,2</text><text transform="translate(438.55,541.10) scale(1.09,1) rotate(0.03)" font-size="9.3">[mm]</text>
<g transform="translate(293.90,452.00)"><g transform="scale(1.15,1) rotate(-90)"><text x="-9.5" y="3.4" font-size="10" font-style="italic" style="stroke-width:0.25px" font-family="'Liberation Serif','DejaVu Serif',serif">η</text><path d="M-8.6,-3.13h4.2" stroke="#1a1a1a" stroke-width="0.75"/></g><g transform="scale(1.34,1) rotate(-90)"><text x="0" y="1.95" font-size="10" style="stroke-width:0.05px">[-]</text></g></g>
<path d="M506.1,489.2 L495.9,488.7 L490.2,489.5 L481.3,485.7 L476.1,482.8 L466.5,478.4" fill="none" stroke="#f8a62c" stroke-width="1.3" stroke-linejoin="round" stroke-linecap="butt" stroke-dasharray="9.7 6.0"/>
<path d="M466.5,478.4 L469.1,486.0 L501.5,450.4 L502.8,449.1" fill="none" stroke="#f8a62c" stroke-width="1.3" stroke-linejoin="round" stroke-linecap="butt" stroke-dasharray="1.4 2.5"/>
<path d="M502.8,449.1 L493.3,442.7 C492.9,443.2 491.9,444.3 490.7,445.9 C489.5,447.5 487.7,450.4 486.3,452.3 C484.9,454.2 484.0,455.4 482.5,457.4 C481.0,459.4 479.1,462.4 477.4,464.4 C475.7,466.4 474.3,467.8 472.3,469.5 C470.3,471.2 467.6,473.0 465.3,474.5 C463.0,476.0 460.9,477.2 458.3,478.4 C455.7,479.6 454.0,480.4 449.6,481.6 C445.2,482.8 439.0,484.2 431.8,485.4 C424.6,486.6 414.8,487.9 406.3,488.8 C397.8,489.7 389.4,490.0 380.9,490.5 C372.4,491.0 362.0,491.5 355.4,491.8 C348.8,492.1 343.8,492.2 341.5,492.3" fill="none" stroke="#f8a62c" stroke-width="1.3" stroke-linejoin="round" stroke-linecap="butt" stroke-dasharray="8.4 2.9 1.4 2.9" stroke-dashoffset="0.4"/>
<path d="M337.1,492.4 L341.1,492.6 C342.1,491.2 344.9,487.7 347.3,484.4 C349.7,481.1 352.8,476.7 355.5,472.9 C358.2,469.1 361.4,464.6 363.6,461.5 C365.8,458.4 367.1,456.9 368.7,454.6 C370.3,452.3 371.8,449.9 373.2,447.8 C374.6,445.8 375.9,444.0 377.3,442.3 C378.7,440.6 380.0,438.9 381.4,437.4 C382.8,435.9 384.1,434.6 385.5,433.3 C386.9,432.0 388.1,430.8 389.5,429.6 C390.9,428.5 392.2,427.5 393.6,426.4 C395.0,425.3 396.3,424.3 397.7,423.0 C399.1,421.7 400.8,420.0 402.2,418.6 C403.6,417.2 404.9,415.8 406.2,414.6 C407.5,413.4 408.9,412.2 410.2,411.2 C411.5,410.2 412.8,409.2 414.1,408.4 C415.4,407.6 416.5,407.1 417.9,406.5 C419.3,405.9 421.6,405.2 422.4,404.9" fill="none" stroke="#f8a62c" stroke-width="1.3" stroke-linejoin="round" stroke-linecap="butt"/>
<path d="M452.9,396.4 L472.3,396.4" fill="none" stroke="#f8a62c" stroke-width="1.3" stroke-linejoin="round" stroke-linecap="butt" stroke-dasharray="9.7 6.0"/>
<text transform="translate(475.30,399.45) scale(1.06,1) rotate(0.03)" font-size="9.7" text-anchor="start" >Preload</text>
<path d="M452.9,409.6 L472.3,409.6" fill="none" stroke="#f8a62c" stroke-width="1.3" stroke-linejoin="round" stroke-linecap="butt" stroke-dasharray="1.4 2.5"/>
<text transform="translate(475.30,412.70) scale(1.06,1) rotate(0.03)" font-size="9.7" text-anchor="start" >Preload-RP1</text>
<path d="M452.9,422.9 L472.3,422.9" fill="none" stroke="#f8a62c" stroke-width="1.3" stroke-linejoin="round" stroke-linecap="butt" stroke-dasharray="8.4 2.9 1.4 2.9"/>
<text transform="translate(475.30,426.00) scale(1.06,1) rotate(0.03)" font-size="9.7" text-anchor="start" >RP1-RP2</text>
<path d="M452.9,435.9 L472.3,435.9" fill="none" stroke="#f8a62c" stroke-width="1.3" stroke-linejoin="round" stroke-linecap="butt"/>
<text transform="translate(475.30,439.00) scale(1.06,1) rotate(0.03)" font-size="9.7" text-anchor="start" >RP2-FP</text>
</svg>
</body></html>
